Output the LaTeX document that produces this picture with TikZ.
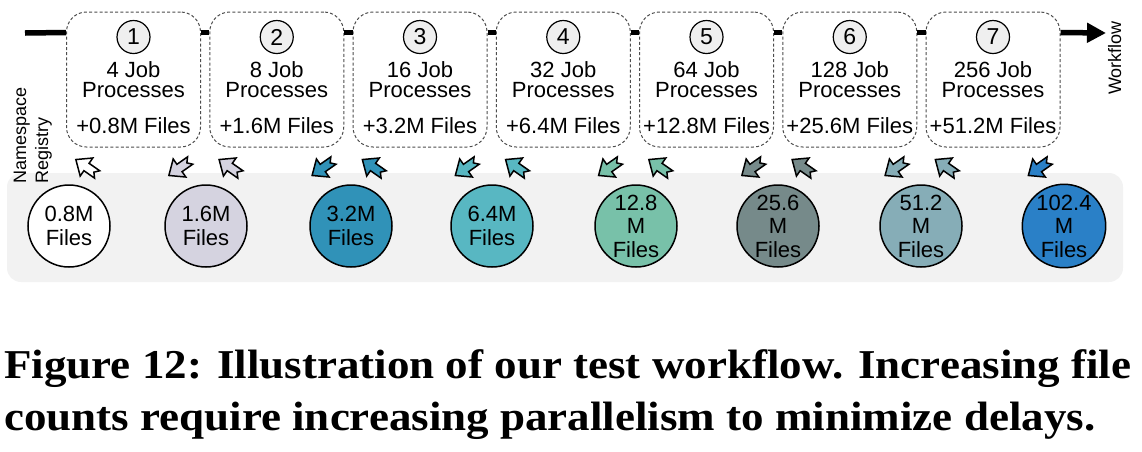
\documentclass[tikz,border=0pt]{standalone}
\usepackage{graphicx}
\usepackage{fontspec}
\setmainfont{Liberation Sans}
\newfontfamily\capfont{Liberation Serif}
\usetikzlibrary{arrows.meta,calc}
\definecolor{c1}{HTML}{FFFFFF}
\definecolor{c2}{HTML}{D5D3E0}
\definecolor{c3}{HTML}{3092B8}
\definecolor{c4}{HTML}{58B7C2}
\definecolor{c5}{HTML}{78C1A9}
\definecolor{c6}{HTML}{768A8A}
\definecolor{c7}{HTML}{86ADB7}
\definecolor{c8}{HTML}{2A80C7}
\definecolor{bgray}{HTML}{F2F2F2}
\definecolor{numfill}{HTML}{EFEFEF}
\begin{document}
\begin{tikzpicture}[x=1pt,y=-1pt,
  stage/.style={draw=black!70, dash pattern=on 3pt off 2.2pt, line width=1pt,
    rounded corners=20pt, minimum width=134pt, minimum height=135pt, inner sep=0pt},
  num/.style={circle, draw=black, line width=1.2pt, fill=numfill, minimum size=33pt,
    inner sep=0pt, font=\fontsize{23}{23}\selectfont},
  lbl/.style={font=\fontsize{22}{22}\selectfont, inner sep=0pt, anchor=base},
  files/.style={circle, draw=black, line width=1.5pt, minimum size=82pt, inner sep=0pt,
    align=center, font=\fontsize{22}{23.5}\selectfont},
  flow/.style={line width=5.5pt, black, line cap=butt},
  side/.style={font=\fontsize{18}{18}\selectfont, inner sep=0pt, rotate=90},
  blkarrow/.pic={\path[draw=black, line width=1.5pt, line join=miter, pic actions]
    (-13,-4.5) -- (0,-4.5) -- (0,-11) -- (13,0) -- (0,11) -- (0,4.5) -- (-13,4.5) -- (-9,0) -- cycle;}
  ]
\useasboundingbox (0,0) rectangle (1142,451);

% registry background
\fill[bgray, rounded corners=14pt] (7,173) rectangle (1123,282);

% stages
\foreach \i/\x/\n/\f in {1/133.5/4/0.8, 2/276.75/8/1.6, 3/420/16/3.2, 4/563.25/32/6.4,
                          5/706.5/64/12.8, 6/849.75/128/25.6, 7/993/256/51.2}{
  \node[stage] (b\i) at (\x,79.5) {};
  \node[num] (n\i) at (\x,37) {\i};
  \node[lbl] (j\i) at (\x,77.5) {\n\ Job};
  \node[lbl] (p\i) at (\x,97.5) {Processes};
  \node[lbl] (f\i) at (\x,133) {+\f M Files};
  \pgfmathtruncatemacro\nx{\i+1}
  \pic[fill=c\i, rotate=145] at (\x-47,167) {blkarrow};
  \pic[fill=c\nx, rotate=215] at (\x+46,168) {blkarrow};
}

% workflow line
\coordinate (start) at (25,33);
\coordinate (end) at (1106,33);
\draw[flow] (start) -- ($(b1.north west)+(0,21)$);
\foreach \i/\j in {1/2,2/3,3/4,4/5,5/6,6/7}{
  \draw[flow] ($(b\i.north east)+(0,21)$) -- ($(b\j.north west)+(0,21)$);
}
\draw[flow, -{Triangle[length=19pt,width=19pt]}] ($(b7.north east)+(0,21)$) -- (end);

% side labels
\node[side, anchor=base] (wf) at (1121,58) {Workflow};
\node[side, anchor=base west] (ns) at (26,184) {Namespace};
\node[side, anchor=base west] (rg) at (48,184) {Registry};

% file circles
\node[files, fill=c1] (c1n) at (69,226) {0.8M\\Files};
\node[files, fill=c2] (c2n) at (206,226) {1.6M\\Files};
\node[files, fill=c3] (c3n) at (351,226) {3.2M\\Files};
\node[files, fill=c4] (c4n) at (492,226) {6.4M\\Files};
\node[files, fill=c5] (c5n) at (636,226) {12.8\\M\\Files};
\node[files, fill=c6] (c6n) at (778,226) {25.6\\M\\Files};
\node[files, fill=c7] (c7n) at (921,226) {51.2\\M\\Files};
\node[files, fill=c8] (c8n) at (1064,226) {102.4\\M\\Files};

% caption
\node[anchor=base west, inner sep=0pt, font=\capfont\bfseries\fontsize{41}{41}\selectfont] (cap1)
  at (4,378) {\resizebox{1127pt}{\height}{Figure 12: Illustration of our test workflow. Increasing file}};
\node[anchor=base west, inner sep=0pt, font=\capfont\bfseries\fontsize{41}{41}\selectfont] (cap2)
  at (4,430) {\resizebox{1091pt}{\height}{counts require increasing parallelism to minimize delays.}};
\end{tikzpicture}
\end{document}
